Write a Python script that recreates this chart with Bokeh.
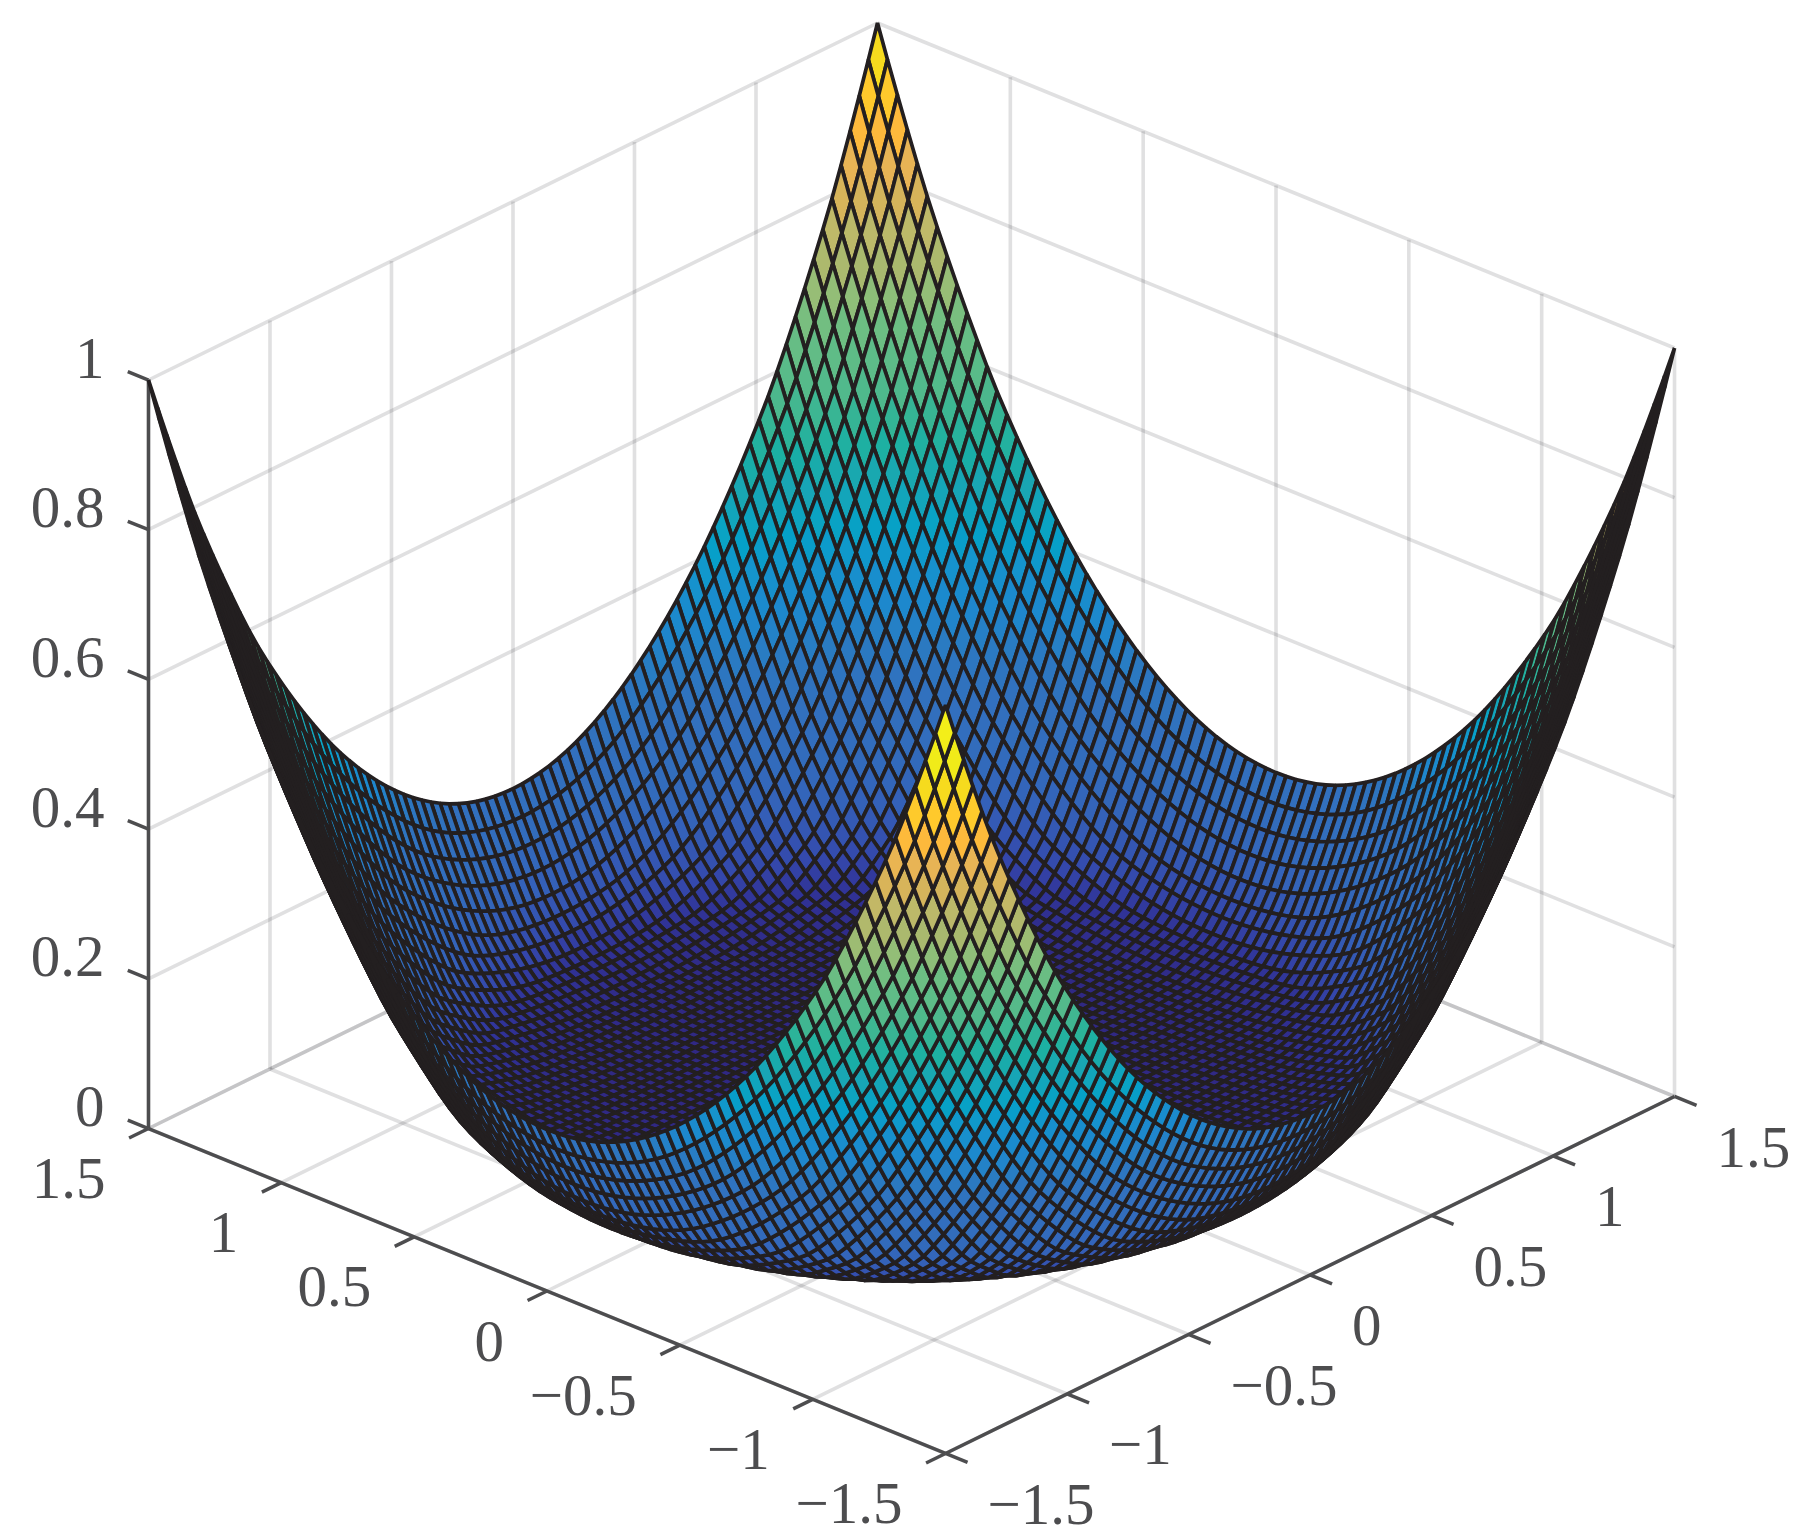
import numpy as np
from bokeh.plotting import figure
from bokeh.models import Range1d, ColumnDataSource
from bokeh.core.properties import value
from bokeh.embed import file_html
from bokeh.resources import INLINE

# ---- axis ticks and labels
x_ticks = [-1.5, -1.0, -0.5, 0.0, 0.5, 1.0, 1.5]
y_ticks = [-1.5, -1.0, -0.5, 0.0, 0.5, 1.0, 1.5]
z_ticks = [0.0, 0.2, 0.4, 0.6, 0.8, 1.0]
x_labels = ["\u22121.5", "\u22121", "\u22120.5", "0", "0.5", "1", "1.5"]
y_labels = ["\u22121.5", "\u22121", "\u22120.5", "0", "0.5", "1", "1.5"]
z_labels = ["0", "0.2", "0.4", "0.6", "0.8", "1"]

# ---- height profile: r2 = (x^2 + y^2) / 1.5^2
profile_r2 = [0.0, 0.30, 0.50, 0.67, 0.80, 1.00, 1.25, 1.50, 1.76, 2.00]
profile_z = [0.0, 0.002, 0.012, 0.037, 0.090, 0.215, 0.395, 0.58, 0.79, 1.00]

# ---- colour scale
cmap_z = [0.0, 0.03, 0.05, 0.10, 0.15, 0.20, 0.22, 0.243, 0.268, 0.298, 0.326, 0.354, 0.382, 0.41, 0.438,
          0.471, 0.507, 0.541, 0.576, 0.61, 0.645, 0.679, 0.719, 0.755, 0.791, 0.83, 0.87, 0.911, 0.954, 1.0]
cmap_r = [48, 48, 52, 52, 50, 50, 48, 45, 40, 30, 25, 20, 5, 15, 25,
          25, 50, 80, 95, 110, 145, 170, 190, 215, 232, 253, 255, 247, 240, 243]
cmap_g = [40, 50, 70, 98, 108, 112, 114, 118, 125, 135, 140, 150, 160, 165, 165,
          175, 180, 185, 188, 190, 190, 185, 185, 180, 180, 185, 200, 218, 235, 238]
cmap_b = [130, 150, 170, 185, 188, 190, 190, 192, 195, 205, 205, 205, 200, 190, 180,
          165, 150, 140, 135, 130, 120, 110, 105, 90, 85, 60, 45, 30, 25, 25]

# ---- orthographic projection onto the page (pixels per data unit)
FLOOR_CENTRE = (911.0, 1112.0)
X_UNIT = (243.0, -119.0)
Y_UNIT = (-265.67, -108.33)
Z_UNIT = (0.0, -748.5)


def project(x, y, z):
    x, y, z = np.asarray(x, float), np.asarray(y, float), np.asarray(z, float)
    return (FLOOR_CENTRE[0] + x * X_UNIT[0] + y * Y_UNIT[0] + z * Z_UNIT[0],
            FLOOR_CENTRE[1] + x * X_UNIT[1] + y * Y_UNIT[1] + z * Z_UNIT[1])


# ---- smooth lookup of the profile
fine_r2 = np.linspace(-0.3, 2.3, 1301)
slope_end = (profile_z[-1] - profile_z[-2]) / (profile_r2[-1] - profile_r2[-2])
fine_z = np.interp(fine_r2, profile_r2, profile_z)
fine_z = np.where(fine_r2 > 2.0, 1.0 + (fine_r2 - 2.0) * slope_end, fine_z)
win = 51
kernel = np.hanning(win)
kernel /= kernel.sum()
smooth_z = np.convolve(fine_z, kernel, mode="same")
smooth_z = np.clip(smooth_z, 0, None)
keep = (fine_r2 >= 0) & (fine_r2 <= 2.0)
lookup_r2 = fine_r2[keep]
lookup_z = smooth_z[keep]
lookup_z = (lookup_z - lookup_z[0]) / (lookup_z[-1] - lookup_z[0])

# ---- surface mesh
N = 81
gx = np.linspace(-1.5, 1.5, N)
gy = np.linspace(-1.5, 1.5, N)
XX, YY = np.meshgrid(gx, gy, indexing="ij")
ZZ = np.interp((XX ** 2 + YY ** 2) / 1.5 ** 2, lookup_r2, lookup_z)
SX, SY = project(XX, YY, ZZ)


def cell_colour(z):
    r = int(round(np.interp(z, cmap_z, cmap_r)))
    g = int(round(np.interp(z, cmap_z, cmap_g)))
    b = int(round(np.interp(z, cmap_z, cmap_b)))
    return f"#{r:02x}{g:02x}{b:02x}"


xs, ys, cols = [], [], []
for i in range(N - 2, -1, -1):
    for j in range(N - 2, -1, -1):
        xs.append([SX[i, j], SX[i + 1, j], SX[i + 1, j + 1], SX[i, j + 1]])
        ys.append([SY[i, j], SY[i + 1, j], SY[i + 1, j + 1], SY[i, j + 1]])
        cols.append(cell_colour(ZZ[i, j]))

# ---- figure; data space is page pixels, so projection goes through Bokeh's scales
p = figure(width=1800, height=1536, x_range=Range1d(0, 1800), y_range=Range1d(1536, 0),
           x_axis_type=None, y_axis_type=None, output_backend="svg", toolbar_location=None,
           min_border=0, outline_line_color=None, background_fill_color="white")
p.grid.visible = False

GRID = "#26262a"
GRID_ALPHA = 0.14
AXIS = "#4d4d4f"
xmin, xmax = x_ticks[0], x_ticks[-1]
ymin, ymax = y_ticks[0], y_ticks[-1]
zmin, zmax = z_ticks[0], z_ticks[-1]

gxs, gys = [], []


def add_grid(a, b):
    ax, ay = project(*a)
    bx, by = project(*b)
    gxs.append([float(ax), float(bx)])
    gys.append([float(ay), float(by)])


for t in x_ticks:
    add_grid((t, ymin, zmin), (t, ymax, zmin))      # floor
    add_grid((t, ymax, zmin), (t, ymax, zmax))      # back-left wall
for t in y_ticks:
    add_grid((xmin, t, zmin), (xmax, t, zmin))      # floor
    add_grid((xmax, t, zmin), (xmax, t, zmax))      # back-right wall
for t in z_ticks:
    add_grid((xmin, ymax, t), (xmax, ymax, t))
    add_grid((xmax, ymin, t), (xmax, ymax, t))
p.multi_line(gxs, gys, line_color=GRID, line_alpha=GRID_ALPHA, line_width=3.6)

# box axes and ticks
axs, ays = [], []


def add_axis(a, b):
    ax, ay = project(*a)
    bx, by = project(*b)
    axs.append([float(ax), float(bx)])
    ays.append([float(ay), float(by)])


add_axis((xmin, ymin, zmin), (xmax, ymin, zmin))
add_axis((xmin, ymin, zmin), (xmin, ymax, zmin))
add_axis((xmin, ymax, zmin), (xmin, ymax, zmax))
for t in x_ticks:
    add_axis((t, ymin, zmin), (t, ymin - 0.083, zmin))
for t in y_ticks:
    add_axis((xmin, t, zmin), (xmin - 0.08, t, zmin))
for t in z_ticks:
    add_axis((xmin, ymax, t), (xmin, ymax + 0.078, t))
p.multi_line(axs, ays, line_color=AXIS, line_width=3.5)

# surface, painted from the far corner to the near corner
src = ColumnDataSource(dict(xs=xs, ys=ys, c=cols))
p.patches("xs", "ys", source=src, fill_color="c", line_color="#231f20", line_width=3.7)

# tick labels
FONT = value("Liberation Serif")
SIZE = "59px"
tx, ty = project(np.array(x_ticks), np.full(7, ymin), np.zeros(7))
p.text(tx + 42, ty + 51, text=x_labels, text_align="left", text_baseline="middle",
       text_font=FONT, text_font_size=SIZE, text_color=AXIS)
tx, ty = project(np.full(7, xmin), np.array(y_ticks), np.zeros(7))
p.text(tx - 43, ty + 50, text=y_labels, text_align="right", text_baseline="middle",
       text_font=FONT, text_font_size=SIZE, text_color=AXIS)
tx, ty = project(np.full(6, xmin), np.full(6, ymax), np.array(z_ticks))
p.text(tx - 44, ty - 22, text=z_labels, text_align="right", text_baseline="middle",
       text_font=FONT, text_font_size=SIZE, text_color=AXIS)

open("out.html", "w").write(file_html(p, INLINE))
